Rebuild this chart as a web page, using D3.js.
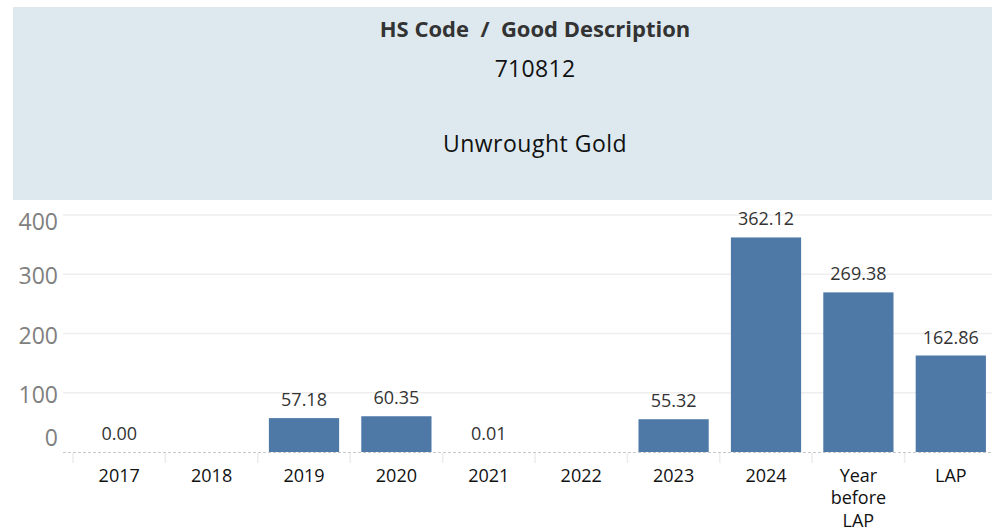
<!DOCTYPE html>
<html>
<head>
<meta charset="utf-8">
<script src="https://cdn.jsdelivr.net/npm/d3@7"></script>
<style>
  body { margin: 0; background: #fff; }
  svg { display: block; }
</style>
</head>
<body>
<div id="chart"></div>
<script>
(() => {
  // ------- data -------
  const categories = ["2017", "2018", "2019", "2020", "2021", "2022", "2023", "2024", "Year before LAP", "LAP"];
  const values = [0.00, null, 57.18, 60.35, 0.01, null, 55.32, 362.12, 269.38, 162.86];
  const yTicks = [0, 100, 200, 300, 400];
  const headerLines = ["HS Code  /  Good Description", "710812", "Unwrought Gold"];

  const data = categories.map((c, i) => ({ cat: c, value: values[i] }));

  const width = 992, height = 531;
  const plot = { left: 73, right: 997, top: 215, bottom: 452, gridLeft: 63 };
  const FONT = "'Open Sans', sans-serif";

  const svg = d3.select("#chart").append("svg")
    .attr("width", width)
    .attr("height", height);

  // ------- header -------
  svg.append("rect")
    .attr("x", 13).attr("y", 7)
    .attr("width", width - 13).attr("height", 193)
    .attr("fill", "#dde9ef");

  const cx = 535;
  svg.append("text")
    .attr("x", cx).attr("y", 37)
    .attr("text-anchor", "middle")
    .attr("fill", "#333")
    .style("font-family", FONT)
    .style("font-weight", 700)
    .style("font-size", "22px")
    .style("white-space", "pre")
    .text(headerLines[0]);

  svg.append("text")
    .attr("x", cx).attr("y", 77)
    .attr("text-anchor", "middle")
    .attr("fill", "#111")
    .style("font-family", FONT)
    .style("font-size", "23px")
    .style("letter-spacing", "0.3px")
    .text(headerLines[1]);

  svg.append("text")
    .attr("x", cx).attr("y", 152)
    .attr("text-anchor", "middle")
    .attr("fill", "#111")
    .style("font-family", FONT)
    .style("font-size", "23px")
    .style("letter-spacing", "0.5px")
    .text(headerLines[2]);

  // ------- scales -------
  const x = d3.scaleBand()
    .domain(categories)
    .range([plot.left, plot.right])
    .paddingInner(0.24)
    .paddingOuter(0.12);

  const xCell = d3.scaleBand()
    .domain(categories)
    .range([plot.left, plot.right])
    .padding(0);

  const y = d3.scaleLinear()
    .domain([0, 400])
    .range([plot.bottom, plot.top]);

  // gridlines
  svg.append("g")
    .selectAll("line")
    .data(yTicks.filter(d => d > 0))
    .join("line")
    .attr("x1", plot.gridLeft).attr("x2", width)
    .attr("y1", d => y(d)).attr("y2", d => y(d))
    .attr("stroke", "#eeeeee")
    .attr("stroke-width", 1.5);

  // y axis labels
  const yAxis = d3.axisLeft(y).tickValues(yTicks).tickSize(0).tickPadding(0);
  const ya = svg.append("g")
    .attr("transform", `translate(58,0)`)
    .call(yAxis);
  ya.select(".domain").remove();
  ya.selectAll("text")
    .attr("fill", "#808080")
    .style("font-family", FONT)
    .style("font-weight", 400)
    .style("font-size", "23px")
    .attr("dy", d => d === 400 ? "0.65em" : d === 0 ? "-0.3em" : "0.42em");

  // bars
  svg.append("g")
    .selectAll("rect")
    .data(data.filter(d => d.value != null))
    .join("rect")
    .attr("x", d => x(d.cat))
    .attr("width", x.bandwidth())
    .attr("y", d => y(d.value))
    .attr("height", d => y(0) - y(d.value))
    .attr("fill", "#4e79a7");

  // value labels
  svg.append("g")
    .selectAll("text")
    .data(data.filter(d => d.value != null))
    .join("text")
    .attr("x", d => x(d.cat) + x.bandwidth() / 2)
    .attr("y", d => Math.min(y(d.value) - 12, y(0) - 11))
    .attr("text-anchor", "middle")
    .attr("fill", "#333")
    .style("font-family", FONT)
    .style("font-size", "18px")
    .text(d => d3.format(".2f")(d.value));

  // baseline (dashed)
  svg.append("line")
    .attr("x1", plot.gridLeft).attr("x2", width)
    .attr("y1", plot.bottom + 0.5).attr("y2", plot.bottom + 0.5)
    .attr("stroke", "#c8c8c8")
    .attr("stroke-dasharray", "3,2");

  // x axis
  const xa = svg.append("g")
    .attr("transform", `translate(0,${plot.bottom + 1})`);

  xa.selectAll("line")
    .data(categories)
    .join("line")
    .attr("x1", d => xCell(d)).attr("x2", d => xCell(d))
    .attr("y1", 0).attr("y2", 10)
    .attr("stroke", "#ececec")
    .attr("stroke-width", 1.5);

  const wrap = { "Year before LAP": ["Year", "before", "LAP"] };
  xa.selectAll("text")
    .data(categories)
    .join("text")
    .attr("text-anchor", "middle")
    .attr("fill", "#111")
    .style("font-family", FONT)
    .style("font-size", "18px")
    .each(function (d) {
      const lines = wrap[d] || [d];
      const t = d3.select(this);
      lines.forEach((ln, i) => {
        t.append("tspan")
          .attr("x", x(d) + x.bandwidth() / 2)
          .attr("y", 28.5 + i * 22.5)
          .text(ln);
      });
    });
})();
</script>
</body>
</html>
